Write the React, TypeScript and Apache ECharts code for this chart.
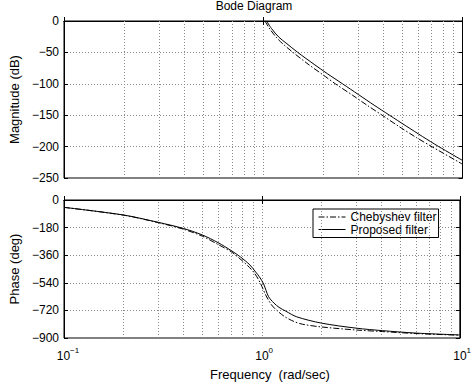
import React, { useEffect, useRef } from "react";
import * as echarts from "echarts";

// Magnitude (dB) vs frequency (rad/sec)
const magFreqProposed = [1.04, 1.1, 1.2, 1.3, 1.49, 1.8, 2.1, 2.5, 3.0, 3.6, 4.3, 5.2, 6.3, 7.6, 10];
const magProposed = [0, -12, -26, -35, -50, -69, -84, -100, -117, -134, -150, -167, -184, -200, -222];
const magFreqCheby = [1.02, 1.08, 1.17, 1.26, 1.41, 1.7, 2.0, 2.3, 2.8, 3.35, 3.95, 4.8, 5.9, 7.1, 10];
const magCheby = [0, -13, -27, -37, -50, -70, -86, -100, -118, -135, -150, -168, -186, -201, -228];

// Phase (deg) vs frequency (rad/sec)
const phFreqProposed = [0.1, 0.2, 0.3, 0.4, 0.5, 0.6, 0.7, 0.78, 0.87, 0.93, 0.97, 1.02, 1.08, 1.15, 1.22, 1.32, 1.5, 2.0, 3.0, 4.06, 6.0, 10];
const phProposed = [-48, -98, -146, -185, -228, -278, -330, -372, -424, -470, -500, -548, -630, -672, -700, -725, -762, -803, -836, -852, -868, -880];
const phFreqCheby = [0.1, 0.2, 0.3, 0.4, 0.5, 0.6, 0.7, 0.75, 0.85, 0.92, 0.98, 1.05, 1.12, 1.19, 1.3, 1.45, 1.6, 2.0, 3.0, 4.06, 6.0, 10];
const phCheby = [-48, -99, -148, -190, -236, -290, -338, -368, -430, -480, -540, -625, -685, -720, -760, -792, -810, -828, -848, -858, -871, -882];

const minorFreqs = [0.2, 0.3, 0.4, 0.5, 0.6, 0.7, 0.8, 0.9, 2, 3, 4, 5, 6, 7, 8, 9];
const magTicks = { min: -250, max: 0, interval: 50 };
const phTicks = { min: -900, max: 0, interval: 180 };

const seriesNames = ["Chebyshev filter", "Proposed filter"];

const FONT = "Liberation Sans, Arial, Helvetica, sans-serif";
const zip = (xs: number[], ys: number[]) => xs.map((x, i) => [x, ys[i]]);
const minus = (v: number) => String(v).replace("-", "\u2212");

export default function App() {
  const ref = useRef<HTMLDivElement>(null);
  useEffect(() => {
    if (!ref.current) return;
    const chart = echarts.init(ref.current, undefined, { renderer: "svg" });
    const grids = [
      { left: 57.5, top: 21, right: 11.5, height: 157 },
      { left: 57.5, top: 200, right: 11.5, height: 138 },
    ];
    const dotted = { color: "#8a8a8a", width: 1, type: [1, 2] as any };
    const baseX = (gi: number, pos: string, labels: boolean) => ({
      type: "log",
      logBase: 10,
      gridIndex: gi,
      min: 0.1,
      max: 10,
      position: pos,
      axisLine: { show: true, lineStyle: { color: "#000" } },
      axisTick: { show: true, inside: true, length: 4, lineStyle: { color: "#000" } },
      splitLine: { show: pos === "bottom", lineStyle: dotted },
      axisLabel: labels
        ? {
            show: true,
            margin: 8,
            align: "center",
            alignMinLabel: "center",
            alignMaxLabel: "center",
            hideOverlap: false,
            formatter: (v: number) => {
              const e = Math.round(Math.log10(v));
              return e === -1
                ? "{p1|}{b|10}{s|\u22121}"
                : e === 0
                ? "{p0|}{b|10}{s|0}"
                : "{p0|}{b|10}{s|1}";
            },
            rich: {
              b: { fontSize: 12, fontFamily: FONT, color: "#000", lineHeight: 16, verticalAlign: "bottom" },
              s: { fontSize: 8, fontFamily: FONT, color: "#000", lineHeight: 16, verticalAlign: "top", padding: [0, 0, 7, 0] },
              p1: { width: 8, fontSize: 8 },
              p0: { width: 4.5, fontSize: 8 },
            },
          }
        : { show: false },
    });
    const baseY = (gi: number, pos: string, t: any, name: string) => ({
      type: "value",
      gridIndex: gi,
      position: pos,
      min: t.min,
      max: t.max,
      interval: t.interval,
      name: pos === "left" ? name : "",
      nameLocation: "middle",
      nameGap: 43,
      nameTextStyle: { fontSize: 13, fontFamily: FONT, color: "#000" },
      axisLine: { show: true, lineStyle: { color: "#000" } },
      axisTick: { show: true, inside: true, length: 4, lineStyle: { color: "#000" } },
      splitLine: { show: pos === "left", lineStyle: dotted },
      axisLabel: pos === "left"
        ? { show: true, fontSize: 12, fontFamily: FONT, color: "#000", margin: 5, formatter: (v: number) => minus(v) }
        : { show: false },
    });
    const xBottom1: any = baseX(1, "bottom", true);
    xBottom1.name = "Frequency  (rad/sec)";
    xBottom1.nameLocation = "middle";
    xBottom1.nameGap = 30;
    xBottom1.nameTextStyle = { fontSize: 13, fontFamily: FONT, color: "#000", padding: [0, 0, 0, 16] };

    const minorLine = (xi: number, yi: number) => ({
      type: "line",
      xAxisIndex: xi,
      yAxisIndex: yi,
      data: [],
      silent: true,
      markLine: {
        silent: true,
        symbol: "none",
        label: { show: false },
        lineStyle: dotted,
        data: minorFreqs.map((f) => ({ xAxis: f })),
      },
    });
    const lineS = (name: string, xi: number, yi: number, data: number[][], dash: boolean) => ({
      name,
      type: "line",
      xAxisIndex: xi,
      yAxisIndex: yi,
      data,
      symbol: "none",
      smooth: 0.3,
      lineStyle: { color: "#000", width: 1, type: dash ? ([6, 2, 1.5, 2] as any) : "solid" },
      itemStyle: { color: "#000" },
      z: 5,
    });

    const option: any = {
      animation: false,
      backgroundColor: "#fff",
      grid: grids.map((g) => ({ ...g, show: true, borderColor: "#000", borderWidth: 1, backgroundColor: "#fff" })),
      graphic: [
        {
          type: "text",
          x: 254,
          y: 0,
          style: { text: "Bode Diagram", fontSize: 12, fontFamily: FONT, fill: "#000", textAlign: "center", textVerticalAlign: "top" },
        },
      ],
      legend: {
        orient: "vertical",
        left: 313,
        top: 209,
        data: seriesNames,
        backgroundColor: "#fff",
        borderColor: "#000",
        borderWidth: 1,
        borderRadius: 0,
        padding: [2, 2, 2, 5],
        itemGap: 0.5,
        itemWidth: 27,
        itemHeight: 10,
        itemStyle: { opacity: 0 },
        lineStyle: { width: 1 },
        textStyle: { fontSize: 12, fontFamily: FONT, color: "#000", lineHeight: 12 },
      },
      xAxis: [baseX(0, "bottom", false), baseX(0, "top", false), xBottom1, baseX(1, "top", false)],
      yAxis: [
        baseY(0, "left", magTicks, "Magnitude (dB)"),
        baseY(0, "right", magTicks, ""),
        baseY(1, "left", phTicks, "Phase (deg)"),
        baseY(1, "right", phTicks, ""),
      ],
      series: [
        minorLine(0, 0),
        minorLine(2, 2),
        lineS(seriesNames[0], 0, 0, zip(magFreqCheby, magCheby), true),
        lineS(seriesNames[1], 0, 0, zip(magFreqProposed, magProposed), false),
        lineS(seriesNames[0], 2, 2, zip(phFreqCheby, phCheby), true),
        lineS(seriesNames[1], 2, 2, zip(phFreqProposed, phProposed), false),
      ],
    };
    chart.setOption(option);
    return () => chart.dispose();
  }, []);
  return <div ref={ref} style={{ width: 474, height: 382, position: "absolute", left: 0, top: 0 }} />;
}
